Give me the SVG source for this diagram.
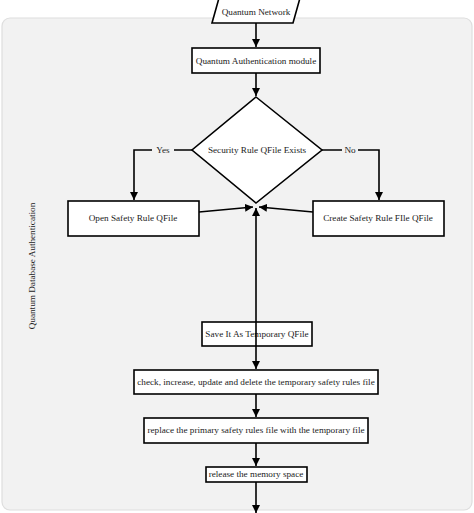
<svg xmlns="http://www.w3.org/2000/svg" width="474" height="513" viewBox="0 0 474 513">
<style>
.node{fill:#ffffff;stroke:#000000;stroke-width:1.6}
.t{font-family:"Liberation Serif","Times New Roman",serif;font-size:9.2px;fill:#222222;text-anchor:middle;dominant-baseline:central}
.c{fill:none;stroke:#000000;stroke-width:1.6}
.lbl{font-family:"Liberation Serif","Times New Roman",serif;font-size:9.2px;fill:#222222;text-anchor:middle;dominant-baseline:central}
</style>
<defs>
<marker id="ah" viewBox="0 0 10 10" refX="10" refY="5" markerWidth="8" markerHeight="8" markerUnits="userSpaceOnUse" orient="auto-start-reverse">
<path d="M0,0 L10,5 L0,10 z" fill="#000000"/>
</marker>
</defs>
<rect width="474" height="513" fill="#ffffff"/>
<g id="container">
<rect x="2" y="18" width="470" height="492" rx="8" ry="8" fill="#f2f2f2" stroke="#dedede" stroke-width="1.2"/>
<text class="t" transform="translate(32,266) rotate(-90)" fill="#333333">Quantum Database Authentication</text>
</g>
<g id="quantum-network">
<polygon class="node" points="219,-2 300,-2 293,23 212,23"/>
<text class="t" x="256" y="12">Quantum Network</text>
</g>
<g id="auth-module">
<rect class="node" x="192" y="48" width="128" height="25"/>
<text class="t" x="256" y="61">Quantum Authentication module</text>
</g>
<g id="decision">
<polygon class="node" points="256,97 322,150 256,203 192,150"/>
<text class="t" x="257" y="150">Security Rule QFile Exists</text>
</g>
<g id="open-file">
<rect class="node" x="68" y="201" width="131" height="35"/>
<text class="t" x="133" y="218">Open Safety Rule QFile</text>
</g>
<g id="create-file">
<rect class="node" x="313" y="201" width="131" height="35"/>
<text class="t" x="378" y="218">Create Safety Rule FIle QFile</text>
</g>
<g id="save-temp">
<rect class="node" x="202" y="322" width="110" height="24"/>
<text class="t" x="257" y="334">Save It As Temporary QFile</text>
</g>
<g id="check">
<rect class="node" x="134" y="370" width="244" height="24"/>
<text class="t" x="256" y="382">check, increase, update and delete the temporary safety rules file</text>
</g>
<g id="replace">
<rect class="node" x="144" y="418" width="224" height="25"/>
<text class="t" x="256" y="430">replace the primary safety rules file with the temporary file</text>
</g>
<g id="release">
<rect class="node" x="206" y="467" width="101" height="15"/>
<text class="t" x="256" y="474">release the memory space</text>
</g>
<g id="connectors">
<line class="c" x1="256" y1="23" x2="256" y2="47" marker-end="url(#ah)"/>
<line class="c" x1="256" y1="73" x2="256" y2="96" marker-end="url(#ah)"/>
<path class="c" d="M192,150 H134 V200" marker-end="url(#ah)"/>
<path class="c" d="M322,150 H379 V200" marker-end="url(#ah)"/>
<line class="c" x1="199" y1="212" x2="253" y2="207" marker-end="url(#ah)"/>
<line class="c" x1="313" y1="212" x2="259" y2="207" marker-end="url(#ah)"/>
<line class="c" x1="256" y1="208" x2="256" y2="369" marker-start="url(#ah)" marker-end="url(#ah)"/>
<line class="c" x1="256" y1="394" x2="256" y2="417" marker-end="url(#ah)"/>
<line class="c" x1="256" y1="443" x2="256" y2="466" marker-end="url(#ah)"/>
<line class="c" x1="256" y1="482" x2="256" y2="513" marker-end="url(#ah)"/>
<rect x="152" y="144" width="22" height="12" fill="#f2f2f2"/>
<text class="lbl" x="163" y="150">Yes</text>
<rect x="342" y="144" width="16" height="12" fill="#f2f2f2"/>
<text class="lbl" x="350" y="150">No</text>
</g>
</svg>
